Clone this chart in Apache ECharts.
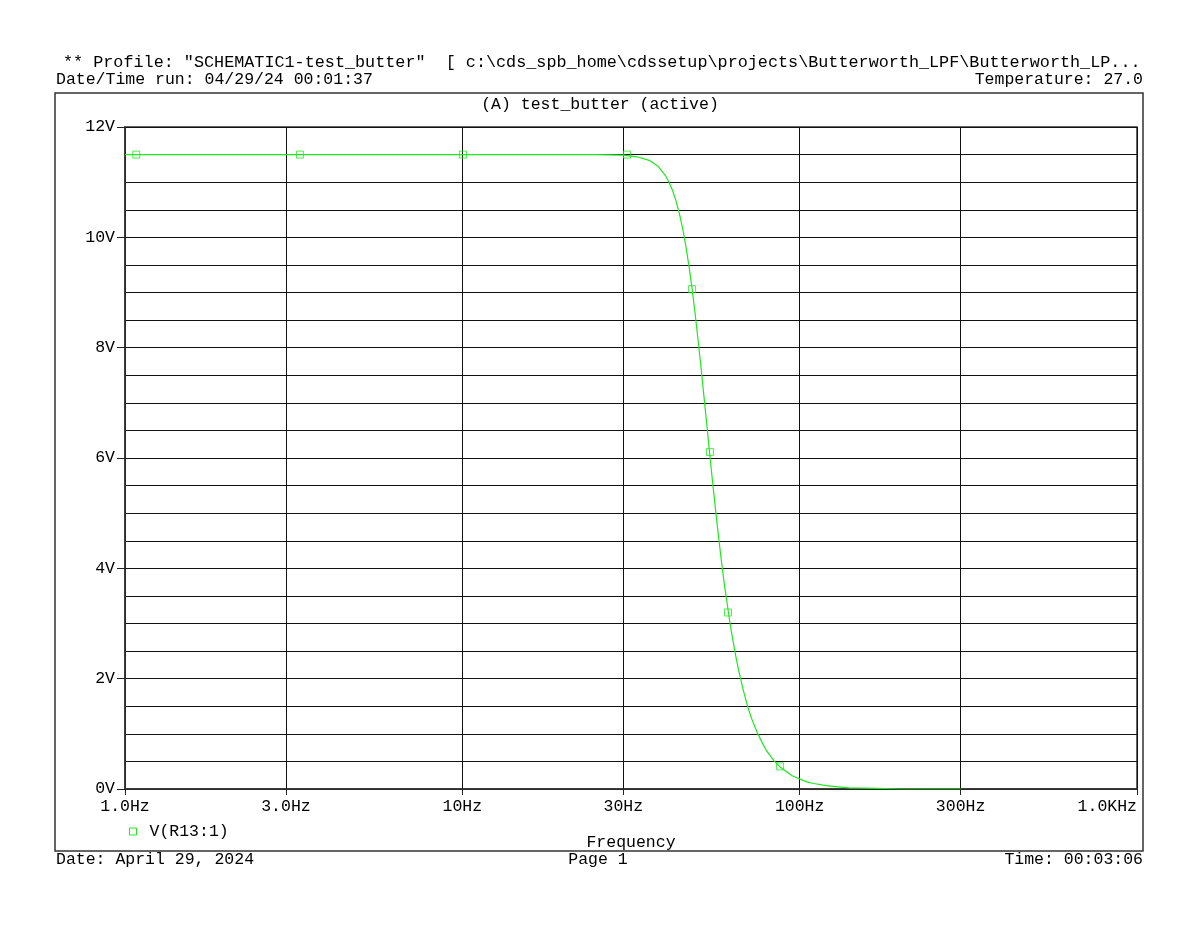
<!DOCTYPE html>
<html>
<head>
<meta charset="utf-8">
<script src="https://cdn.jsdelivr.net/npm/echarts@6/dist/echarts.min.js"></script>
<style>html,body{margin:0;padding:0;background:#fff;}#c{width:1200px;height:927px;}</style>
</head>
<body>
<div id="c"></div>
<script>
// ---- data ----
var freqHz = [1, 10, 25, 30, 33, 36, 38, 40, 41, 42, 43, 44, 45, 46, 47, 48, 49, 50, 51, 52, 53, 54, 55, 56, 57, 58, 59, 60, 62, 63, 65, 66, 68, 70, 72, 75, 78, 80, 84, 87.5, 95, 105, 110, 120, 130, 140, 170, 200, 300];
var voltV  = [11.5, 11.5, 11.5, 11.49, 11.46, 11.39, 11.29, 11.12, 11.0, 10.85, 10.66, 10.43, 10.16, 9.83, 9.47, 9.06, 8.61, 8.13, 7.64, 7.13, 6.63, 6.13, 5.65, 5.20, 4.77, 4.37, 3.99, 3.65, 3.05, 2.79, 2.33, 2.14, 1.80, 1.51, 1.28, 1.01, 0.80, 0.68, 0.51, 0.40, 0.24, 0.13, 0.10, 0.06, 0.04, 0.02, 0.01, 0, 0];
var markerHz = [1.08, 3.3, 10.05, 30.8, 48, 54.2, 61.3, 87.5];
var markerV  = [11.5, 11.5, 11.5, 11.5, 9.06, 6.11, 3.2, 0.41];
var xTickValues = [1, 3, 10, 30, 100, 300, 1000];
var xTickLabels = ['1.0Hz', '3.0Hz', '10Hz', '30Hz', '100Hz', '300Hz', '1.0KHz'];
var seriesName = 'V(R13:1)';

var FONT = 'Liberation Mono';
var FS = 16.5;
var GREEN = '#1ee81e';

var lineData = freqHz.map(function (f, i) { return [f, voltV[i]]; });
var markData = markerHz.map(function (f, i) { return [f, markerV[i]]; });

function txt(text, x, y, align, size) {
  return { type: 'text', style: { text: text, x: x, y: y, fill: '#000', fontFamily: FONT, fontSize: size || FS, align: align || 'left', verticalAlign: 'middle' }, silent: true };
}

var chart = echarts.init(document.getElementById('c'), null, { renderer: 'canvas' });
chart.setOption({
  backgroundColor: '#fff',
  animation: false,
  grid: { left: 125, top: 127, right: 63, bottom: 138, show: true, borderColor: '#333', borderWidth: 1.5, backgroundColor: 'transparent' },
  xAxis: {
    type: 'log', logBase: 10, min: 1, max: 1000,
    axisLine: { show: true, lineStyle: { color: '#333', width: 1.5 } },
    axisTick: { show: true, inside: false, length: 6, customValues: xTickValues, lineStyle: { color: '#222' } },
    axisLabel: { customValues: xTickValues, margin: 9, color: '#000', fontFamily: FONT, fontSize: FS, alignMaxLabel: 'right',
      formatter: function (v) { var i = xTickValues.indexOf(Math.round(v)); return i >= 0 ? xTickLabels[i] : ''; } },
    splitLine: { show: true, lineStyle: { color: '#111', width: 1 } },
    minorTick: { show: false }, minorSplitLine: { show: false }
  },
  yAxis: [
    { type: 'value', min: 0, max: 12, interval: 0.5, position: 'left',
      axisLine: { show: true, lineStyle: { color: '#333', width: 1.5 } },
      axisTick: { show: false }, axisLabel: { show: false },
      splitLine: { show: true, lineStyle: { color: '#111', width: 1 } } },
    { type: 'value', min: 0, max: 12, interval: 2, position: 'left',
      axisLine: { show: false },
      axisTick: { show: true, length: 8, lineStyle: { color: '#222' } },
      axisLabel: { margin: 10, color: '#000', fontFamily: FONT, fontSize: FS, formatter: function (v) { return v + 'V'; } },
      splitLine: { show: false } }
  ],
  legend: {
    left: 124, top: 818, orient: 'horizontal', itemWidth: 7, itemHeight: 7,
    data: [{ name: seriesName, icon: 'rect', itemStyle: { color: 'transparent', borderColor: GREEN, borderWidth: 1 } }],
    textStyle: { color: '#000', fontFamily: FONT, fontSize: FS, padding: [0, 0, 0, 8] },
    selectedMode: false
  },
  series: [
    { name: seriesName, type: 'line', data: lineData, showSymbol: false, smooth: false,
      lineStyle: { color: GREEN, width: 1.2 }, itemStyle: { color: GREEN }, z: 5 },
    { name: seriesName, type: 'scatter', data: markData, symbol: 'rect', symbolSize: 7,
      itemStyle: { color: 'transparent', borderColor: GREEN, borderWidth: 1 }, z: 6 }
  ],
  graphic: [
    { type: 'rect', shape: { x: 55, y: 93, width: 1088, height: 758 }, style: { fill: 'none', stroke: '#333', lineWidth: 1.5 }, silent: true, z: -1 },
    txt('** Profile: "SCHEMATIC1-test_butter"  [ c:\\cds_spb_home\\cdssetup\\projects\\Butterworth_LPF\\Butterworth_LP...', 63, 63, 'left', 16.8),
    txt('Date/Time run: 04/29/24 00:01:37', 56, 80),
    txt('Temperature: 27.0', 1143, 80, 'right'),
    txt('(A) test_butter (active)', 600, 105, 'center'),
    txt('Frequency', 631, 843, 'center'),
    txt('Date: April 29, 2024', 56, 860),
    txt('Page 1', 598, 860, 'center'),
    txt('Time: 00:03:06', 1143, 860, 'right')
  ]
});
</script>
</body>
</html>
